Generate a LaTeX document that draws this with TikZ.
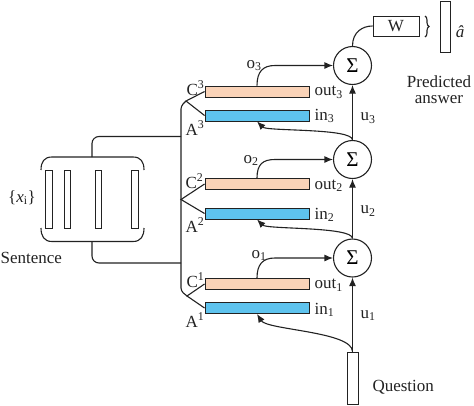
\documentclass[tikz,border=0pt]{standalone}
\usepackage{fontspec}
\setmainfont{Liberation Serif}
\usetikzlibrary{arrows.meta,calc,decorations.pathreplacing}
\definecolor{peach}{HTML}{FAD3B8}
\definecolor{skyb}{HTML}{5EC3EE}
\definecolor{ink}{HTML}{222222}
\begin{document}
\begin{tikzpicture}[x=1pt,y=-1pt,line width=1.1pt,
  bar/.style={draw=ink,minimum width=104pt,minimum height=11pt,inner sep=0pt,line width=0.9pt},
  outbar/.style={bar,fill=peach},
  inbar/.style={bar,fill=skyb},
  vbar/.style={draw=ink,fill=white,inner sep=0pt,line width=0.9pt},
  sumc/.style={circle,draw=ink,minimum size=38pt,inner sep=0pt,font=\fontsize{21}{21}\selectfont},
  lbl/.style={font=\fontsize{17}{17}\selectfont,inner sep=0pt,text=ink},
  arr/.style={draw=ink,-{Latex[length=8.5pt,width=7pt]}},
  conn/.style={draw=ink}]
\useasboundingbox (0,0) rectangle (474,405);

% memory bars
\node[outbar] (out3) at (257,91.5) {};
\node[inbar]  (in3)  at (257,115.5) {};
\node[outbar] (out2) at (257,184) {};
\node[inbar]  (in2)  at (257,213.5) {};
\node[outbar] (out1) at (257,284) {};
\node[inbar]  (in1)  at (257,308) {};

% sums
\node[sumc] (s3) at (352.5,65.5) {Σ};
\node[sumc] (s2) at (352.5,159.5) {Σ};
\node[sumc] (s1) at (352.5,258) {Σ};

% question, W, answer
\node[vbar,minimum width=11pt,minimum height=52pt] (q) at (352.5,378) {};
\node[vbar,minimum width=46pt,minimum height=20pt,lbl] (w) at (396,26) {W};
\node[vbar,minimum width=10.5pt,minimum height=51pt] (ah) at (445.5,27) {};

% sentence bars
\node[vbar,minimum width=6.5pt,minimum height=58pt] (sb1) at (49,199) {};
\node[vbar,minimum width=6.5pt,minimum height=58pt] (sb2) at (67.5,199) {};
\node[vbar,minimum width=6.5pt,minimum height=58pt] (sb3) at (98.5,199) {};
\node[vbar,minimum width=6.5pt,minimum height=58pt] (sb4) at (135,199) {};

% sentence bracket
\coordinate (btop) at (92,157);
\coordinate (bbot) at (92,241.5);
\draw[conn] (41,170) .. controls (41,162) and (44,157) .. (52,157) -- (btop) -- (133,157) .. controls (141,157) and (144,162) .. (144,170);
\draw[conn] (41,228) .. controls (41,236) and (44,241.5) .. (52,241.5) -- (bbot) -- (133,241.5) .. controls (141,241.5) and (144,236) .. (144,228);

% connectors to memories
\coordinate (jtop) at (181,136.5);
\coordinate (jbot) at (181,263);
\coordinate (v3) at (186,101);
\coordinate (v2) at (181,199.5);
\coordinate (v1) at (187,296);
\draw[conn,rounded corners=7pt] (btop) |- (jtop);
\draw[conn,rounded corners=7pt] (bbot) |- (jbot);
\draw[conn,rounded corners=3pt] (v3) -- (181,106) -- (181,291) -- (v1);
\draw[conn] (out3.west) -- (v3) -- (in3.west);
\draw[conn] (out2.west) -- (v2) -- (in2.west);
\draw[conn] (out1.west) -- (v1) -- (in1.west);

% u arrows
\draw[arr] (q.north) -- (s1.south);
\draw[arr] (s1.north) -- (s2.south);
\draw[arr] (s2.north) -- (s3.south);
\draw[arr] (q.north) .. controls +(0,-20) and +(10,16) .. (in1.south);
\draw[arr] (s1.north) .. controls +(0,-12) and +(10,10) .. (in2.south);
\draw[arr] (s2.north) .. controls +(0,-12) and +(10,10) .. (in3.south);

% o arrows
\draw[arr] (out3.north) .. controls +(0,-14) and +(-12,0) .. ($(out3.north |- s3.west)+(18,0)$) -- (s3.west);
\draw[arr] (out2.north) .. controls +(0,-14) and +(-12,0) .. ($(out2.north |- s2.west)+(18,0)$) -- (s2.west);
\draw[arr] (out1.north) .. controls +(0,-14) and +(-12,0) .. ($(out1.north |- s1.west)+(18,0)$) -- (s1.west);

% to W
\draw[conn] (s3.north) .. controls +(0,-14) and +(-10,0) .. (w.west);
\draw[conn,decorate,decoration={brace,amplitude=4pt}] (425,16) -- (425,37);

% labels
\node[lbl,anchor=base west] (lo3) at (314,95.5) {out\textsubscript{3}};
\node[lbl,anchor=base west] (li3) at (314,120) {in\textsubscript{3}};
\node[lbl,anchor=base west] (lo2) at (314,189) {out\textsubscript{2}};
\node[lbl,anchor=base west] (li2) at (314,219) {in\textsubscript{2}};
\node[lbl,anchor=base west] (lo1) at (314,288.5) {out\textsubscript{1}};
\node[lbl,anchor=base west] (li1) at (314,314) {in\textsubscript{1}};

\node[lbl,anchor=base west] (lu3) at (360,120.5) {u\textsubscript{3}};
\node[lbl,anchor=base west] (lu2) at (360,213.5) {u\textsubscript{2}};
\node[lbl,anchor=base west] (lu1) at (360,318) {u\textsubscript{1}};

\node[lbl,anchor=base west] (lob3) at (246,68) {o\textsubscript{3}};
\node[lbl,anchor=base west] (lob2) at (243,163) {o\textsubscript{2}};
\node[lbl,anchor=base west] (lob1) at (251,258) {o\textsubscript{1}};

\node[lbl,anchor=base west] (lc3) at (186,95) {C\textsuperscript{3}};
\node[lbl,anchor=base west] (la3) at (185,135) {A\textsuperscript{3}};
\node[lbl,anchor=base west] (lc2) at (185,188) {C\textsuperscript{2}};
\node[lbl,anchor=base west] (la2) at (185,232) {A\textsuperscript{2}};
\node[lbl,anchor=base west] (lc1) at (186,287) {C\textsuperscript{1}};
\node[lbl,anchor=base west] (la1) at (185,327) {A\textsuperscript{1}};

\node[lbl] (lx) at (22,197.5) {\{\textit{x}\textsubscript{i}\}};
\node[lbl,anchor=base west] (lsent) at (0,263) {Sentence};
\node[lbl,anchor=base west] (lq) at (372,391.5) {Question};
\node[lbl,anchor=north,align=center,font=\fontsize{17}{16.5}\selectfont] (lpa) at (439,75) {Predicted\\answer};
\node[lbl,anchor=base] (lah) at (460,37) {\textit{â}};
\end{tikzpicture}
\end{document}
